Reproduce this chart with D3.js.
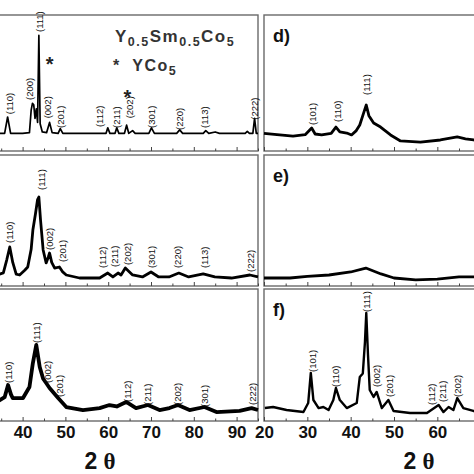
<!DOCTYPE html>
<html>
<head>
<meta charset="utf-8">
<script src="https://cdn.jsdelivr.net/npm/d3@7"></script>
<style>
  html, body { margin: 0; padding: 0; background: #fff; }
  svg { display: block; }
  .hkl { font-family: Arial, "Liberation Sans", sans-serif; font-size: 9.5px; fill: #111; }
  .tick text { font-family: Arial, "Liberation Sans", sans-serif; font-weight: bold; font-size: 17px; fill: #111; }
</style>
</head>
<body>
<svg id="chart"></svg>
<script>
// 2theta ticks
const majorTicks = [20, 30, 40, 50, 60, 70, 80, 90];
const minorTicks = [25, 35, 45, 55, 65, 75, 85, 95];
// tick labels that show inside the cropped figure
const leftTickLabels = [40, 50, 60, 70, 80, 90];
const rightTickLabels = [20, 30, 40, 50, 60];

// XRD patterns, [2theta, intensity (a.u.)]
const patternA = [[30,13],[34,13],[35.8,13],[36.5,25],[37.2,13],[40,13],[41.6,13.5],[42.0,30],[42.3,35],[42.6,34],[42.9,24],[43.2,31],[43.5,21],[43.8,85],[44.1,20],[44.6,14],[45.6,13.5],[46.3,21],[46.9,13.5],[48.3,13],[48.8,16.5],[49.4,13],[55,13],[59.5,13],[59.9,17],[60.4,13],[61.6,13],[62,17],[62.5,13],[63.8,13],[64.3,19],[64.8,13],[65.7,15],[66.3,13],[69.5,13],[70.1,17],[70.8,13],[76,13],[76.7,15.5],[77.4,13],[82.2,13],[82.8,15],[83.5,13],[85,14],[86,13],[92,13],[92.5,14.5],[93,13],[93.8,13],[94.2,24],[94.6,13],[95,13]];
const patternB = [[30,8],[34,8.5],[35.5,10],[36.3,20],[37.0,29.8],[37.7,18],[38.5,9],[39.3,8.4],[40.5,12],[41.2,14.5],[42.0,28],[42.4,42.7],[43.0,55],[43.5,66],[43.8,67.9],[44.2,50],[44.8,27.5],[45.5,17.6],[46.0,22],[46.3,25.2],[46.8,18],[47.5,13.7],[48.6,14.5],[49.3,11],[50.2,8.4],[53.3,6.1],[58,6.1],[59.9,9.9],[61.1,6.9],[62.3,9.9],[63,8.4],[64,13.7],[65.7,8.4],[68,6.9],[70,10.7],[71.8,6.9],[74.2,6.9],[76.5,9.9],[78.8,6.9],[82.2,9.2],[84.9,6.9],[88.8,6.1],[93.1,8.4],[95,6.9]];
const patternC = [[30,14],[34,14.4],[35.8,18],[36.6,27.3],[37.3,20],[37.7,17.4],[40.1,17.4],[41.6,25.8],[42.4,43.9],[43.2,57.6],[44.0,40.9],[44.8,32],[45.5,28.8],[46.3,25],[47.1,22],[48.3,17.4],[50.2,10.6],[54.1,8.3],[58,9.8],[60.3,12.1],[62,11],[64.2,14.4],[66.5,9.8],[69.3,12.1],[72,8.3],[74.3,9.8],[76.3,12.1],[79,8.3],[82.5,10.6],[85.3,6.8],[90.7,7.6],[93.5,9.8],[95,8.3]];
const patternD = [[20,13],[23,12],[26.7,11],[29.5,12],[31,16.9],[31.8,12.5],[33.3,11.8],[35.5,13],[36.6,17.6],[37.5,14],[39.1,13.2],[40.2,11.8],[41.3,15],[42.1,19.1],[43.0,28],[43.6,33.8],[44.2,26],[45.3,20.6],[46.9,17.6],[49.2,11.8],[51.5,7.4],[56.1,6.6],[60.7,8.1],[64.6,10.3],[66.5,9],[68.4,8.1],[70,8]];
const patternE = [[20,6.1],[26,6.1],[30,7.3],[35,8.4],[40,10.7],[43.5,13.7],[47,9.2],[50,6.1],[55,4.6],[60,5.3],[65,6.9],[68.5,6.9],[70,6.5]];
const patternF = [[20.2,9.8],[22.1,10.6],[25.2,8.3],[29.1,6.8],[30.2,13.6],[30.8,36.4],[31.4,15.9],[32.6,9.8],[33.7,10.6],[34.9,8.3],[36.0,15.9],[36.6,25],[37.5,15.9],[39.1,9.8],[41.4,13.6],[42.1,33.3],[42.8,36],[43.3,60],[43.6,81.8],[44.0,50],[44.4,23.5],[45.3,18.2],[46.0,22],[47.2,9.8],[48.7,15.9],[49.9,7.6],[53.7,6.1],[57.6,6.1],[60.3,12.1],[61.4,6.8],[62.6,10.6],[63.7,8.3],[64.6,17.4],[66.0,9.8],[68.3,7.6],[70,7]];

// peak labels, [hkl, 2theta, intensity at label foot]
const labelsA = [["(110)",37.0,27],["(200)",41.6,37.5],["(111)",44.0,87.5],["(002)",45.8,24],["(201)",48.9,17],["(112)",58.0,17.6],["(211)",62.0,17],["(202)",65.0,24],["(301)",70.1,17],["(220)",76.7,15.5],["(113)",82.5,17],["(222)",94.2,23]];
const labelsB = [["(110)",37.0,32.8],["(111)",44.4,73.3],["(002)",46.3,27.5],["(201)",49.3,18.3],["(112)",58.7,13.7],["(211)",61.5,14.5],["(202)",64.5,16],["(301)",70.1,13.7],["(220)",76.2,13.7],["(113)",82.5,13.7],["(222)",93.4,10.7]];
const labelsC = [["(110)",36.7,28.8],["(111)",43.3,59],["(002)",45.8,28.8],["(201)",48.6,18.2],["(112)",64.5,14.4],["(211)",69.2,12.1],["(202)",76.2,12.1],["(301)",82.5,10.6],["(222)",93.7,12.1]];
const labelsD = [["(101)",31.3,19.1],["(110)",36.9,21.3],["(111)",43.6,41.2]];
const labelsE = [];
const labelsF = [["(101)",31.3,37.1],["(110)",36.6,25.8],["(111)",43.6,82.6],["(002)",45.9,25.8],["(201)",49.1,18.2],["(112)",58.8,12.1],["(211)",61.3,14.4],["(202)",64.6,18.2]];
// YCo5 reflections marked with *
const starsA = [[46.3,69],[64.5,45]];

const W = 474, H = 474;
const svg = d3.select("#chart").attr("width", W).attr("height", H);

const rows = [{top: 15, bottom: 151}, {top: 155, bottom: 286}, {top: 289, bottom: 421}];
const xLeft = d3.scaleLinear().domain([20, 95]).range([-63, 258]);
const xRight = d3.scaleLinear().domain([20, 95]).range([264, 589]);

const panels = [
  {x: xLeft, row: 0, data: patternA, labels: labelsA, sw: 1.7},
  {x: xLeft, row: 1, data: patternB, labels: labelsB, sw: 2.8},
  {x: xLeft, row: 2, data: patternC, labels: labelsC, sw: 3.8, tickText: leftTickLabels},
  {x: xRight, row: 0, data: patternD, labels: labelsD, sw: 2.8, tag: "d)"},
  {x: xRight, row: 1, data: patternE, labels: labelsE, sw: 2.8, tag: "e)"},
  {x: xRight, row: 2, data: patternF, labels: labelsF, sw: 2.4, tag: "f)", tickText: rightTickLabels}
];

panels.forEach(p => {
  const r = rows[p.row];
  const y = d3.scaleLinear().domain([0, 100]).range([r.bottom, r.top]);
  const g = svg.append("g");
  const [x0, x1] = p.x.range();

  g.append("rect")
    .attr("x", x0).attr("y", r.top)
    .attr("width", x1 - x0).attr("height", r.bottom - r.top)
    .attr("fill", "none").attr("stroke", "#6a6a6a").attr("stroke-width", 1.4);

  // inward ticks, labels only under the bottom row
  const shown = p.tickText || [];
  const major = d3.axisBottom(p.x).tickValues(majorTicks).tickSize(-4).tickPadding(5)
    .tickFormat(d => shown.includes(d) ? d3.format("d")(d) : "");
  const minor = d3.axisBottom(p.x).tickValues(minorTicks).tickSize(-2.5).tickFormat("");
  g.append("g").attr("transform", `translate(0,${r.bottom})`).call(major)
    .call(a => a.select(".domain").remove())
    .call(a => a.selectAll("line").attr("stroke", "#444"));
  g.append("g").attr("transform", `translate(0,${r.bottom})`).call(minor)
    .call(a => a.select(".domain").remove())
    .call(a => a.selectAll("line").attr("stroke", "#444"));

  const line = d3.line().x(d => p.x(d[0])).y(d => y(d[1]));
  g.append("path").datum(p.data)
    .attr("d", line)
    .attr("fill", "none").attr("stroke", "#000")
    .attr("stroke-width", p.sw).attr("stroke-linejoin", "round");

  g.selectAll("text.hkl").data(p.labels).join("text")
    .attr("class", "hkl")
    .attr("transform", d => `translate(${p.x(d[1])},${y(d[2])}) rotate(-90)`)
    .attr("dy", "0.35em")
    .text(d => d[0]);

  if (p.tag) {
    g.append("text")
      .attr("x", x0 + 9).attr("y", r.top + 27)
      .attr("font-family", "Arial, 'Liberation Sans', sans-serif")
      .attr("font-weight", "bold").attr("font-size", 18)
      .attr("fill", "#111")
      .text(p.tag);
  }
  p.y = y;
});

// stars on panel a
svg.selectAll("text.star").data(starsA).join("text")
  .attr("class", "star")
  .attr("x", d => xLeft(d[0])).attr("y", d => panels[0].y(d[1]))
  .attr("text-anchor", "middle").attr("dy", "0.7em")
  .attr("font-family", "Arial, 'Liberation Sans', sans-serif")
  .attr("font-weight", "bold").attr("font-size", 20).attr("fill", "#222")
  .text("*");

// legend
const leg = svg.append("text")
  .attr("x", 115).attr("y", 42)
  .attr("font-family", "Arial, 'Liberation Sans', sans-serif")
  .attr("font-weight", "bold").attr("font-size", 17).attr("letter-spacing", 1.5)
  .attr("fill", "#333");
leg.append("tspan").text("Y");
leg.append("tspan").attr("font-size", 12.5).attr("dy", 4).text("0.5");
leg.append("tspan").attr("dy", -4).text("Sm");
leg.append("tspan").attr("font-size", 12.5).attr("dy", 4).text("0.5");
leg.append("tspan").attr("dy", -4).text("Co");
leg.append("tspan").attr("font-size", 12.5).attr("dy", 4).text("5");

const leg2 = svg.append("text")
  .attr("x", 113).attr("y", 71)
  .attr("font-family", "Arial, 'Liberation Sans', sans-serif")
  .attr("font-weight", "bold").attr("font-size", 16).attr("letter-spacing", 1.5)
  .attr("fill", "#333");
leg2.append("tspan").attr("xml:space", "preserve").text("*  YCo");
leg2.append("tspan").attr("font-size", 12.5).attr("dy", 4).text("5");

// x titles
[100, 419].forEach(cx => {
  const t = svg.append("text")
    .attr("x", cx).attr("y", 469)
    .attr("text-anchor", "middle")
    .attr("font-weight", "bold").attr("font-size", 23)
    .attr("fill", "#111");
  t.append("tspan").attr("font-family", "Arial, 'Liberation Sans', sans-serif").text("2 ");
  t.append("tspan").attr("font-family", "'Liberation Serif', 'DejaVu Serif', serif").text("θ");
});
</script>
</body>
</html>
